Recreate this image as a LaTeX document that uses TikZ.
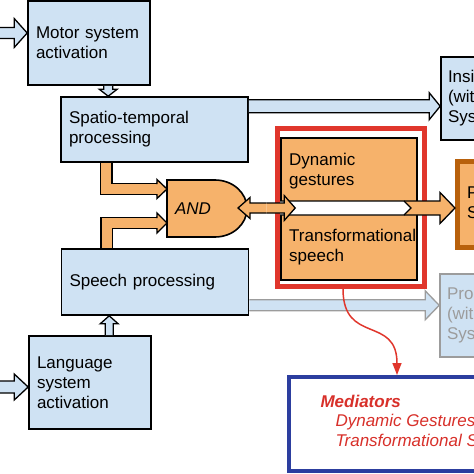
\documentclass[tikz,border=0pt]{standalone}
\usepackage{fontspec}
\setmainfont{Liberation Sans}
\usetikzlibrary{calc,arrows.meta}

\definecolor{paleblue}{HTML}{CFE2F3}
\definecolor{paleorange}{HTML}{F6B26B}
\definecolor{framered}{HTML}{E0362C}
\definecolor{medblue}{HTML}{2C3E9F}
\definecolor{rust}{HTML}{B8610C}
\definecolor{fade}{HTML}{9C9C9C}
\definecolor{medred}{HTML}{D8302A}

\tikzset{
	boxfont/.style={font=\fontsize{17}{20}\selectfont},
	stage/.style={draw, line width=1.6pt, fill=paleblue, anchor=north west, inner sep=0pt, align=left, boxfont},
	faded/.style={stage, draw=fade, text=fade},
	actbox/.style={draw, line width=1.6pt, fill=paleorange, anchor=north west, inner sep=0pt},
	barrow/.style={draw=black, fill=paleblue, line width=1.3pt, line join=miter},
	garrow/.style={draw=fade, fill=paleblue, line width=1.3pt, line join=miter},
	oarrow/.style={draw=black, fill=paleorange, line width=1.3pt, line join=miter},
	warrow/.style={draw=black, fill=white, line width=1.3pt, line join=miter},
	oshaft/.style={draw=black, double=paleorange, double distance=10pt, line width=1.3pt, line join=miter},
}

% block arrow: style, from, to, half shaft, half head, head length
\newcommand\blockarrow[6]{%
	\path (#2) coordinate (ba-s) (#3) coordinate (ba-e);
	\pgfpointdiff{\pgfpointanchor{ba-s}{center}}{\pgfpointanchor{ba-e}{center}}%
	\pgfgetlastxy{\badx}{\bady}%
	\pgfmathsetmacro\balen{veclen(\badx,\bady)}%
	\pgfmathsetmacro\baangle{atan2(\bady,\badx)}%
	\begin{scope}[shift={(ba-s)}, rotate=\baangle]
		\fill[#1, draw=none] (0,#4) -- (\balen-#6,#4) -- (\balen-#6,#5) -- (\balen,0) -- (\balen-#6,-#5) -- (\balen-#6,-#4) -- (0,-#4) -- cycle;
		\draw[#1, fill=none] (0,#4) -- (\balen-#6,#4) -- (\balen-#6,#5) -- (\balen,0) -- (\balen-#6,-#5) -- (\balen-#6,-#4) -- (0,-#4);
	\end{scope}}

\begin{document}
\begin{tikzpicture}[x=1pt, y=-1pt]
	\useasboundingbox (0,0) rectangle (474,474);
	\clip (0,0) rectangle (474,474);

	\node[stage, minimum width=122pt, minimum height=84pt, text width=106pt] (motor) at (27.2,0.2) {Motor system\\activation};
	\node[stage, minimum width=187pt, minimum height=65pt, text width=171pt] (spatio) at (60.2,96.2) {Spatio-temporal\\processing};
	\node[stage, minimum width=187pt, minimum height=66pt, text width=171pt] (speech) at (60.7,248.2) {Speech processing};
	\node[stage, minimum width=122pt, minimum height=93pt, text width=106pt] (language) at (28.2,335.2) {Language\\system\\activation};
	\node[stage, minimum width=120pt, minimum height=83pt, text width=106pt] (insight) at (440.2,56.2) {Insight\\(with\\System)};
	\node[faded, minimum width=120pt, minimum height=83pt, text width=106pt] (product) at (439.2,273.2) {Production\\(with\\System)};
	\node[actbox, draw=rust, line width=5pt, minimum width=100pt, minimum height=86pt, text width=81pt, align=left, boxfont] (planning) at (455,158.5) {Planning\\System};

	\node[draw=medblue, line width=4pt, fill=white, anchor=north west, minimum width=200pt, minimum height=94pt] (mediators) at (287,375) {};
	\node[anchor=base west, align=left, text=medred, font=\fontsize{17}{19.5}\selectfont\itshape] (medtext) at (317,446)
		{\textbf{Mediators}\\\hspace*{15pt}Dynamic Gestures\\\hspace*{15pt}Transformational Speech};

	\node[draw=framered, line width=5pt, anchor=north west, minimum width=147pt, minimum height=158pt] (medframe) at (275,126) {};
	\node[actbox, minimum width=136pt, minimum height=142pt] (action) at (280.2,137.2) {};
	\node[anchor=base west, align=left, inner sep=0pt, boxfont] (dyn) at (289,185) {Dynamic\\gestures};
	\node[anchor=base west, align=left, inner sep=0pt, boxfont] (trans) at (289,261) {Transformational\\speech};

	\coordinate (motorin) at (-10,33);
	\coordinate (langin) at (-10,387);
	\coordinate (ms) at ($(motor.south west)+(81,0)$);
	\coordinate (ls) at ($(language.north west)+(81,0)$);
	\coordinate (si) at ($(spatio.north east)+(0,10)$);
	\coordinate (sp) at ($(speech.south east)+(0,-10.5)$);
	\blockarrow{barrow}{motorin}{motorin -| motor.west}{5.5}{14.5}{13}
	\blockarrow{barrow}{langin}{langin -| language.west}{6}{13}{14}
	\blockarrow{barrow}{ms}{ms |- spatio.north}{4.5}{9}{7}
	\blockarrow{barrow}{ls}{ls |- speech.south}{4}{9}{8}
	\blockarrow{barrow}{si}{si -| insight.west}{6.5}{13.5}{11}
	\blockarrow{garrow}{sp}{sp -| product.west}{5.5}{14.5}{14}

	\coordinate (gin1) at (167,189);
	\coordinate (gin2) at (167,223);
	\draw[oshaft] ($(spatio.south west)+(46,0)$) |- ($(gin1)+(-9,0)$);
	\draw[oshaft] ($(speech.north west)+(46,0)$) |- ($(gin2)+(-9,0)$);
	\blockarrow{oarrow}{$(gin1)+(-11,0)$}{gin1}{5.65}{9.5}{10}
	\blockarrow{oarrow}{$(gin2)+(-11,0)$}{gin2}{5.65}{10}{10}
	\filldraw[oarrow, line width=1.6pt] (167,180) -- (215,180) arc[start angle=-90, end angle=90, x radius=32, y radius=28.5] -- (167,237) -- cycle;
	\node[boxfont, font=\fontsize{17}{20}\selectfont\itshape] (andgate) at (193,208.5) {AND};

	\coordinate (gout) at (238,208);
	\coordinate (dyin) at ($(gout -| action.west)+(15,0)$);
	\coordinate (bandend) at (411,208);
	\blockarrow{oarrow}{$(bandend)+(-7,0)$}{gout -| planning.west}{7}{15.5}{15}
	\blockarrow{warrow}{gout -| action.west}{bandend}{7}{7}{7}
	\blockarrow{oarrow}{$(gout)!0.5!(dyin)$}{dyin}{5}{12.5}{11}
	\blockarrow{oarrow}{$(gout)!0.5!(dyin)$}{gout}{5}{10.5}{12}

	\draw[framered, line width=1.5pt, -{Triangle[length=12pt, width=9pt]}] ($(medframe.south west)+(68,0)$) .. controls +(0,56) and +(0,-60) .. ($(mediators.north west)+(110,0)$);
\end{tikzpicture}
\end{document}
